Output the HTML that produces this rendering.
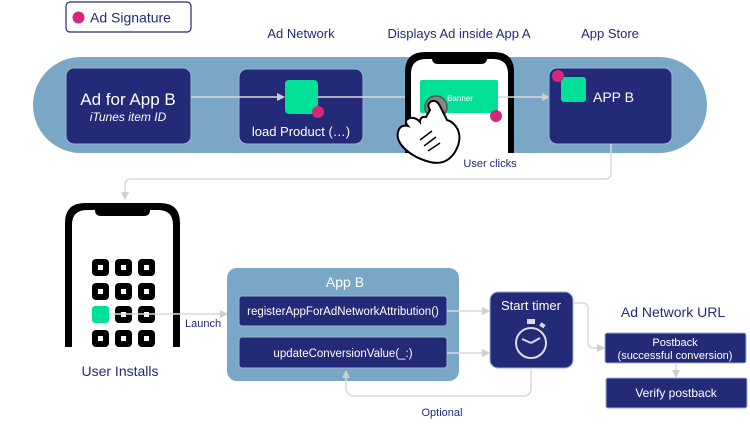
<!DOCTYPE html>
<html><head><meta charset="utf-8"><style>
body{margin:0;width:750px;height:424px;background:#fff;overflow:hidden;font-family:"Liberation Sans",sans-serif}
svg text{font-family:"Liberation Sans",sans-serif}
</style></head><body>
<svg width="750" height="424" viewBox="0 0 750 424" xmlns="http://www.w3.org/2000/svg">
<defs>
<marker id="ar" markerWidth="8" markerHeight="8" refX="7" refY="4" orient="auto" markerUnits="userSpaceOnUse"><path d="M0,0 L8,4 L0,8 z" fill="#cfcfcf"/></marker>
</defs>
<!-- legend -->
<rect x="66" y="2" width="125" height="30" rx="4" fill="#fff" stroke="#232a78" stroke-width="1.2"/>
<circle cx="78.5" cy="17.5" r="6" fill="#d6287a"/>
<text x="90" y="22.5" font-size="14" fill="#232a78">Ad Signature</text>
<!-- headers -->
<g font-size="13" fill="#232a78" text-anchor="middle">
<text x="301" y="38">Ad Network</text>
<text x="459" y="38">Displays Ad inside App A</text>
<text x="610" y="38">App Store</text>
</g>
<!-- band -->
<rect x="33" y="57" width="674" height="96" rx="48" fill="#7ba7c7"/>
<!-- box1 -->
<rect x="66" y="68" width="125" height="76" rx="8" fill="#232a78" stroke="#9bb3d6" stroke-width="1"/>
<text x="128" y="105" font-size="17" fill="#fff" text-anchor="middle">Ad for App B</text>
<text x="128" y="121" font-size="12" font-style="italic" fill="#fff" text-anchor="middle">iTunes item ID</text>
<!-- box2 -->
<rect x="239" y="69" width="124" height="75" rx="8" fill="#232a78" stroke="#9bb3d6" stroke-width="1"/>
<line x1="191" y1="97" x2="284" y2="97" stroke="#d9d9d9" stroke-width="1.5" marker-end="url(#ar)"/>
<rect x="285" y="80" width="33" height="34" rx="4" fill="#00e096"/>
<circle cx="318" cy="112" r="6" fill="#d6287a"/>
<text x="301" y="136" font-size="13" fill="#fff" text-anchor="middle">load Product (…)</text>
<line x1="318" y1="97" x2="405" y2="97" stroke="#d9d9d9" stroke-width="1.5"/>
<!-- phone 1 -->
<path d="M405,153 L405,72 Q405,52 425,52 L494,52 Q514,52 514,72 L514,153 Z" fill="#000"/>
<path d="M411,153 L411,74 Q411,59 426,59 L493,59 Q508,59 508,74 L508,153 Z" fill="#fff"/>
<path d="M432,52 L487,52 L487,58 Q487,64 481,64 L438,64 Q432,64 432,58 Z" fill="#000"/>
<rect x="420" y="80" width="78" height="33" rx="2" fill="#00e096"/>
<text x="460" y="101" font-size="8" fill="#fff" text-anchor="middle">Banner</text>
<circle cx="496" cy="116" r="6" fill="#d6287a"/>
<line x1="498" y1="97" x2="549" y2="97" stroke="#d9d9d9" stroke-width="1.5" marker-end="url(#ar)"/>
<!-- hand -->
<circle cx="436" cy="107" r="11" fill="#888" stroke="#555" stroke-width="1.5"/>
<path d="M430,110 Q426,104 432,101 Q437,100 440,106 L447,120 Q454,122 458,130 Q462,140 455,152 Q446,166 430,162 Q414,158 404,148 Q396,140 398,132 Q400,124 408,126 Q403,120 410,118 Q416,117 420,122 Q420,116 426,117 L430,110 Z" fill="#fff" stroke="#000" stroke-width="2"/>
<path d="M420,140 L432,131 M424,146 L436,137 M428,151 L440,143" stroke="#000" stroke-width="1.5"/>
<!-- app store box -->
<rect x="549" y="68" width="123" height="76" rx="8" fill="#232a78" stroke="#9bb3d6" stroke-width="1"/>
<rect x="561" y="77" width="25" height="25" rx="3" fill="#00e096"/>
<circle cx="558" cy="76" r="6" fill="#d6287a"/>
<text x="593" y="102" font-size="14" fill="#fff">APP B</text>
<!-- user clicks connector -->
<path d="M611,144 L611,173 Q611,179 605,179 L131,179 Q125,179 125,185 L125,199" fill="none" stroke="#d9d9d9" stroke-width="1.5" marker-end="url(#ar)"/>
<text x="490" y="167" font-size="11" fill="#232a78" text-anchor="middle">User clicks</text>
<!-- phone 2 -->
<path d="M65,347 L65,223 Q65,203 85,203 L160,203 Q180,203 180,223 L180,347 Z" fill="#000"/>
<path d="M72,347 L72,225 Q72,210 87,210 L158,210 Q173,210 173,225 L173,347 Z" fill="#fff"/>
<path d="M95,203 L150,203 L150,210 Q150,216 144,216 L101,216 Q95,216 95,210 Z" fill="#000"/>
<g fill="#000">
<rect x="92" y="259" width="17" height="17" rx="4"/><rect x="115" y="259" width="17" height="17" rx="4"/><rect x="138" y="259" width="17" height="17" rx="4"/>
<rect x="92" y="283" width="17" height="17" rx="4"/><rect x="115" y="283" width="17" height="17" rx="4"/><rect x="138" y="283" width="17" height="17" rx="4"/>
<rect x="115" y="306" width="17" height="17" rx="4"/><rect x="138" y="306" width="17" height="17" rx="4"/>
<rect x="92" y="330" width="17" height="17" rx="4"/><rect x="115" y="330" width="17" height="17" rx="4"/><rect x="138" y="330" width="17" height="17" rx="4"/>
</g>
<g fill="#fff">
<rect x="98" y="265" width="5" height="5"/><rect x="121" y="265" width="5" height="5"/><rect x="144" y="265" width="5" height="5"/>
<rect x="98" y="289" width="5" height="5"/><rect x="121" y="289" width="5" height="5"/><rect x="144" y="289" width="5" height="5"/>
<rect x="121" y="312" width="5" height="5"/><rect x="144" y="312" width="5" height="5"/>
<rect x="98" y="336" width="5" height="5"/><rect x="121" y="336" width="5" height="5"/><rect x="144" y="336" width="5" height="5"/>
</g>
<rect x="92" y="306" width="17" height="17" rx="3" fill="#00e096"/>
<line x1="109" y1="314" x2="227" y2="314" stroke="#d9d9d9" stroke-width="1.5" marker-end="url(#ar)"/>
<text x="185" y="327" font-size="11" fill="#232a78">Launch</text>
<text x="120" y="376" font-size="14" fill="#232a78" text-anchor="middle">User Installs</text>
<!-- App B container -->
<rect x="227" y="268" width="232" height="113" rx="10" fill="#7ba7c7"/>
<text x="345" y="287" font-size="14" fill="#fff" text-anchor="middle">App B</text>
<rect x="239" y="296" width="208" height="30" rx="3" fill="#232a78" stroke="#9bb3d6" stroke-width="1"/>
<text x="343" y="315" font-size="11.5" fill="#fff" text-anchor="middle">registerAppForAdNetworkAttribution()</text>
<rect x="239" y="337" width="208" height="31" rx="3" fill="#232a78" stroke="#9bb3d6" stroke-width="1"/>
<text x="343" y="357" font-size="11.5" fill="#fff" text-anchor="middle">updateConversionValue(_:)</text>
<line x1="447" y1="311" x2="489" y2="311" stroke="#d9d9d9" stroke-width="1.5" marker-end="url(#ar)"/>
<line x1="447" y1="353" x2="489" y2="353" stroke="#d9d9d9" stroke-width="1.5" marker-end="url(#ar)"/>
<!-- timer -->
<rect x="490" y="292" width="83" height="76" rx="8" fill="#232a78" stroke="#9bb3d6" stroke-width="1"/>
<text x="531" y="310" font-size="13" fill="#fff" text-anchor="middle">Start timer</text>
<g stroke="#ddd" fill="none" stroke-width="2">
<circle cx="531" cy="343" r="15"/>
<path d="M531,343 L522,339 M531,343 L540,338"/>
</g>
<rect x="527" y="319" width="8" height="5" fill="#ddd"/>
<rect x="540" y="323" width="5" height="4" fill="#ddd" transform="rotate(35 542 325)"/>
<!-- to postback -->
<path d="M573,303 L582,303 Q588,303 588,309 L588,342 Q588,348 594,348 L604,348" fill="none" stroke="#d9d9d9" stroke-width="1.5" marker-end="url(#ar)"/>
<text x="673" y="317" font-size="14" fill="#232a78" text-anchor="middle">Ad Network URL</text>
<rect x="605" y="333" width="141" height="30" rx="2" fill="#232a78" stroke="#9bb3d6" stroke-width="1"/>
<text x="675" y="346" font-size="11" fill="#fff" text-anchor="middle">Postback</text>
<text x="675" y="359" font-size="11" fill="#fff" text-anchor="middle">(successful conversion)</text>
<line x1="676" y1="363" x2="676" y2="377" stroke="#d9d9d9" stroke-width="1.5" marker-end="url(#ar)"/>
<rect x="606" y="378" width="141" height="30" rx="2" fill="#232a78" stroke="#9bb3d6" stroke-width="1"/>
<text x="676" y="397" font-size="12" fill="#fff" text-anchor="middle">Verify postback</text>
<!-- optional loop -->
<path d="M531,368 L531,388 Q531,396 523,396 L355,396 Q346,396 346,387 L346,371" fill="none" stroke="#d9d9d9" stroke-width="1.5" marker-end="url(#ar)"/>
<text x="442" y="416" font-size="11" fill="#232a78" text-anchor="middle">Optional</text>
</svg>
</body></html>
